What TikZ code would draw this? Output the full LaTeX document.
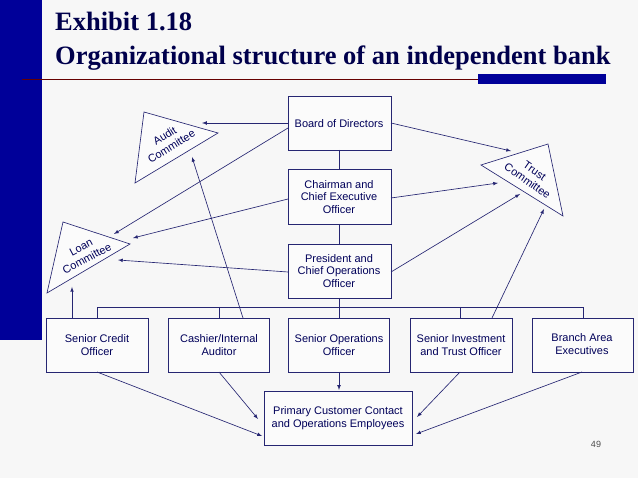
\documentclass[tikz,border=0pt]{standalone}
\usepackage{fontspec}
\setmainfont{Liberation Sans}
\newfontfamily\ttl{Liberation Serif}
\begin{document}
\begin{tikzpicture}[x=1pt,y=-1pt,
  ln/.style={draw=blue!35!black!85,line width=0.65pt},
  bx/.style={ln,fill=white!97!gray},
  ar/.style={ln,-latex},
  tx/.style={text=blue!35!black,font=\fontsize{11}{12.5}\selectfont,align=center,inner sep=0pt}]
\fill[black!3] (0,0) rectangle (638,478);
\useasboundingbox (0,0) rectangle (638,478);
\fill[blue!60!black] (0,0) rectangle (42,340);
\draw[red!40!black,line width=0.8pt] (22,79) -- (478,79);
\fill[blue!60!black] (478,74) rectangle (606,84);
\node[anchor=base west,inner sep=0pt,text=blue!30!black,font=\ttl\bfseries\fontsize{26.5}{28}\selectfont] (t1) at (55,31) {Exhibit 1.18};
\node[anchor=base west,inner sep=0pt,text=blue!30!black,font=\ttl\bfseries\fontsize{26.5}{28}\selectfont] (t2) at (55,65) {Organizational structure of an independent bank};
% boxes
\draw[bx] (288,96) rectangle (391,150); \node[tx] (bd) at (339,124) {Board of Directors};
\draw[bx] (288,169) rectangle (391,224); \node[tx] (ch) at (339,197) {Chairman and\\Chief Executive\\Officer};
\draw[bx] (288,244) rectangle (391,298); \node[tx] (pr) at (339,271) {President and\\Chief Operations\\Officer};
\draw[ln] (339,150)--(339,169) (339,224)--(339,244) (339,298)--(339,318);
\draw[ln] (97,318)--(97,307)--(583,307)--(583,318) (219,307)--(219,318) (460,307)--(460,318);
\draw[bx] (46,318) rectangle (148,372); \node[tx] (sc) at (97,345) {Senior Credit\\Officer};
\draw[bx] (168,318) rectangle (269,372); \node[tx] (ca) at (219,345) {Cashier/Internal\\Auditor};
\draw[bx] (288,318) rectangle (389,372); \node[tx] (so) at (339,345) {Senior Operations\\Officer};
\draw[bx] (410,318) rectangle (512,372); \node[tx] (si) at (461,345) {Senior Investment\\and Trust Officer};
\draw[bx] (532,318) rectangle (633,372); \node[tx] (br) at (582,344) {Branch Area\\Executives};
\draw[bx] (264,391) rectangle (412,445); \node[tx] (pc) at (338,418) {Primary Customer Contact\\and Operations Employees};
% triangles
\draw[bx] (144,112)--(218,133)--(135,183)--cycle; \node[tx,rotate=32] (au) at (168,141) {Audit\\Committee};
\draw[bx] (63,222)--(130,244)--(47,293)--cycle; \node[tx,rotate=28] (lo) at (84,253) {Loan\\Committee};
\draw[bx] (481,165)--(548,144)--(563,216)--cycle; \node[tx,rotate=-35] (tr) at (531,176) {Trust\\Committee};
\node[font=\fontsize{9}{10}\selectfont,text=black!70] (pg) at (596,444) {49};
% arrows
\draw[ar] (288,123)--(202,123);
\draw[ar] (288,128)--(114,234);
\draw[ar] (288,199)--(133,238);
\draw[ar] (288,272)--(118,260);
\draw[ar] (243,318)--(192,157);
\draw[ar] (72,318)--(72,287);
\draw[ar] (391,123)--(511,151);
\draw[ar] (391,198)--(498,183);
\draw[ar] (391,272)--(520,194);
\draw[ar] (492,318)--(544,209);
\draw[ar] (97,372)--(262,436);
\draw[ar] (219,372)--(258,419);
\draw[ar] (339,372)--(339,390);
\draw[ar] (460,372)--(417,417);
\draw[ar] (582,372)--(416,434);
\end{tikzpicture}
\end{document}
